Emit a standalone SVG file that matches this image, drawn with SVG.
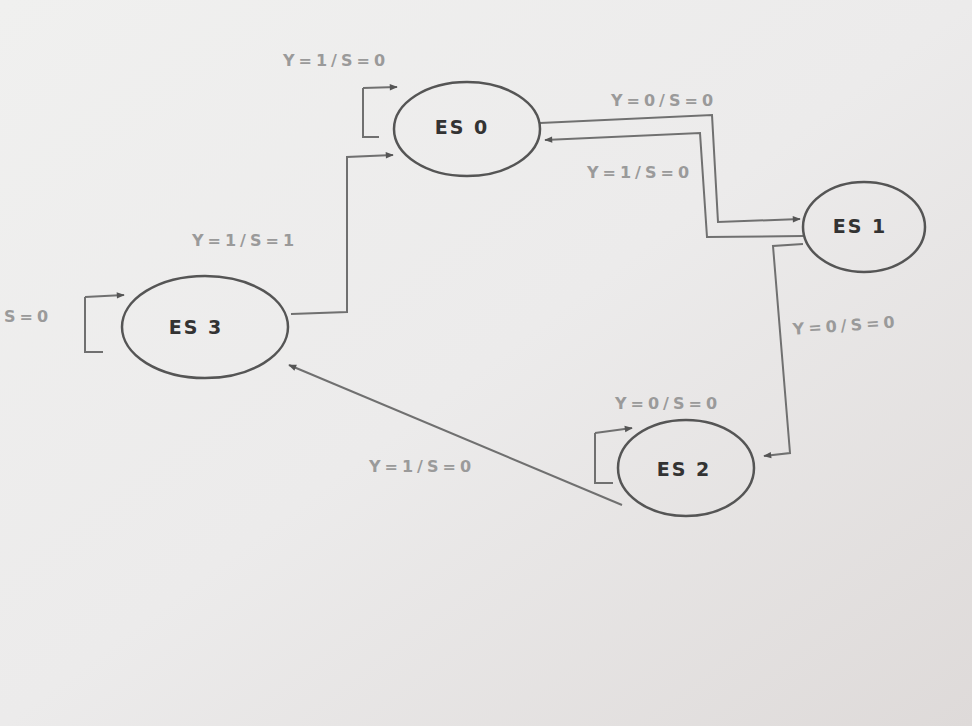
<svg xmlns="http://www.w3.org/2000/svg" width="972" height="726" viewBox="0 0 972 726">
<defs>
<linearGradient id="bg" x1="0" y1="0" x2="1" y2="1">
<stop offset="0" stop-color="#f0f0ef"/>
<stop offset="0.5" stop-color="#ecebeb"/>
<stop offset="1" stop-color="#dedad9"/>
</linearGradient>
<marker id="ah" viewBox="0 0 10 10" refX="9" refY="5" markerWidth="9" markerHeight="8" orient="auto" markerUnits="userSpaceOnUse">
<path d="M0,1 L10,5 L0,9 Z" fill="#555"/>
</marker>
<style>
.node{fill:none;stroke:#555;stroke-width:2.5}
.nl{font-family:"DejaVu Sans",sans-serif;font-weight:bold;font-size:19px;letter-spacing:2px;fill:#333;text-anchor:middle}
.el{font-family:"DejaVu Sans",sans-serif;font-weight:bold;font-size:16px;letter-spacing:4px;fill:#9a9a9a;text-anchor:middle}
.c{fill:none;stroke:#707070;stroke-width:2}
</style>
</defs>
<rect width="972" height="726" fill="url(#bg)"/>
<g id="connectors">
<path class="c" d="M363,88 L363,137 L379,137" />
<path class="c" d="M363,88 L397,87" marker-end="url(#ah)"/>
<path class="c" d="M85,297 L85,352 L103,352" />
<path class="c" d="M85,297 L124,295" marker-end="url(#ah)"/>
<path class="c" d="M595,433 L595,483 L613,483" />
<path class="c" d="M595,433 L632,428" marker-end="url(#ah)"/>
<path class="c" d="M291,314 L347,312 L347,157 L393,155" marker-end="url(#ah)"/>
<path class="c" d="M540,123 L712,115 L718,222 L800,219" marker-end="url(#ah)"/>
<path class="c" d="M803,236 L707,237 L700,133 L545,140" marker-end="url(#ah)"/>
<path class="c" d="M803,244 L773,246 L790,453 L764,456" marker-end="url(#ah)"/>
<path class="c" d="M622,505 L289,365" marker-end="url(#ah)"/>
<text class="el" x="336" y="66">Y=1/S=0</text>
<text class="el" x="664" y="106">Y=0/S=0</text>
<text class="el" x="640" y="178">Y=1/S=0</text>
<text class="el" x="245" y="246">Y=1/S=1</text>
<text class="el" x="4" y="322" style="text-anchor:start">S=0</text>
<text class="el" x="846" y="331" transform="rotate(-4 846 331)">Y=0/S=0</text>
<text class="el" x="668" y="409">Y=0/S=0</text>
<text class="el" x="422" y="472">Y=1/S=0</text>
</g>
<g id="es0"><ellipse class="node" cx="467" cy="129" rx="73" ry="47"/><text class="nl" x="462" y="134">ES 0</text></g>
<g id="es1"><ellipse class="node" cx="864" cy="227" rx="61" ry="45"/><text class="nl" x="860" y="233">ES 1</text></g>
<g id="es3"><ellipse class="node" cx="205" cy="327" rx="83" ry="51"/><text class="nl" x="196" y="334">ES 3</text></g>
<g id="es2"><ellipse class="node" cx="686" cy="468" rx="68" ry="48"/><text class="nl" x="684" y="476">ES 2</text></g>
</svg>
